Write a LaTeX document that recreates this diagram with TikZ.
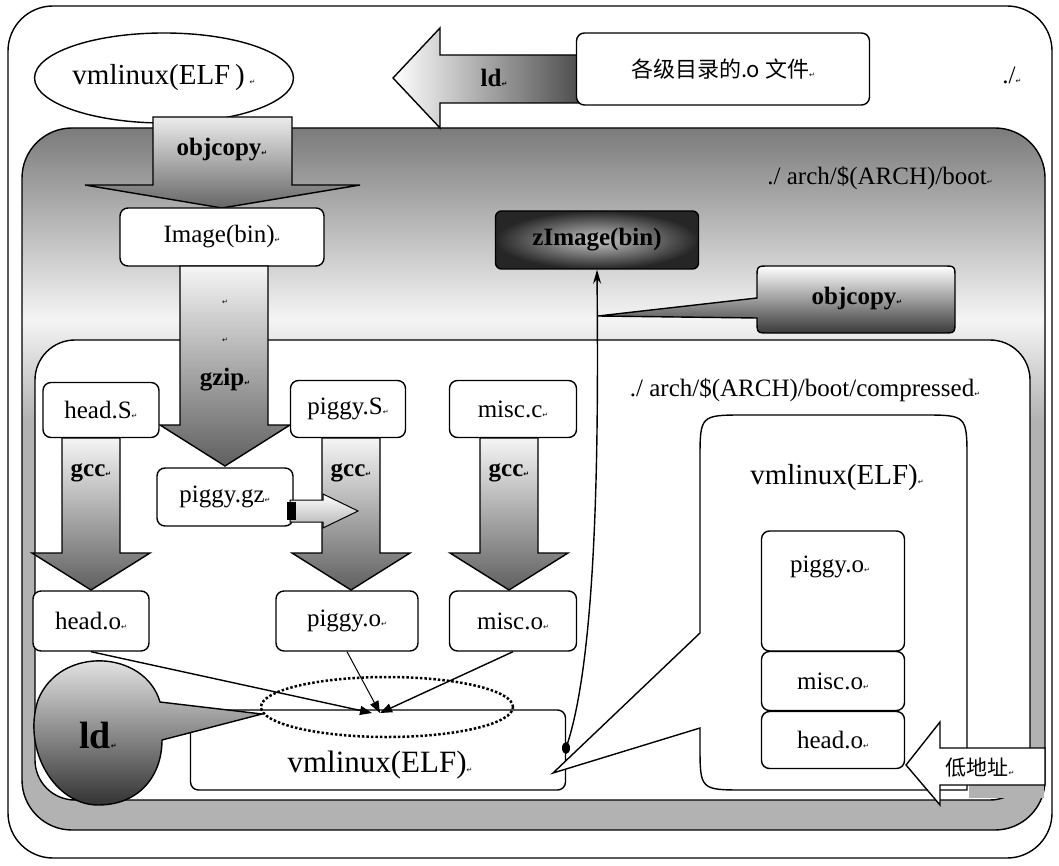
\documentclass[tikz,border=0pt]{standalone}
\usepackage{fontspec}
\setmainfont{Liberation Serif}
\newfontfamily\cjk{Noto Sans CJK SC}
\newfontfamily\symf{DejaVu Sans}
\usetikzlibrary{shapes.geometric,arrows.meta}
\newcommand{\retm}{{\symf\fontsize{7}{7}\selectfont ↵}}
\begin{document}
\begin{tikzpicture}[x=1pt,y=-1pt,line width=1.4pt,
  box/.style={draw,fill=white,rounded corners=8pt,inner sep=0pt,font=\fontsize{25}{27}\selectfont},
  lbl/.style={font=\fontsize{25}{27}\selectfont\bfseries,inner sep=0pt},
  txt/.style={font=\fontsize{25}{27}\selectfont,inner sep=0pt}]
\useasboundingbox (0,0) rectangle (1059,866);
% outer
\draw[rounded corners=45pt] (8,6) rectangle (1052,858);
% gray panel
\fill[gray!60,rounded corners=50pt] (22,128) rectangle (1045,830);
\begin{scope}
\clip[rounded corners=50pt] (22,128) rectangle (1045,830);
\shade[top color=gray!85!black!90,bottom color=gray!8] (22,128) rectangle (1045,320);
\shade[top color=gray!8,bottom color=gray!60] (22,319) rectangle (1045,420);
\end{scope}
\draw[rounded corners=50pt] (22,128) rectangle (1045,830);
\node[txt] (boot) at (880,178) {./ arch/\$(ARCH)/boot\retm};
\node[txt] (root) at (1012,75) {./\retm};
% top ellipse and ld arrow
\node[ellipse,draw,fill=white,minimum width=236pt,minimum height=90pt,txt,font=\fontsize{29}{31}\selectfont] (vm0) at (164,78) {vmlinux(ELF\,)\,\retm};
\shade[left color=white,right color=gray!60!black,draw] (393,78) -- (440,28) -- (440,55) -- (580,55) -- (580,103) -- (440,103) -- (440,128) -- cycle;
\node[lbl] (ld0) at (494,78) {ld\retm};
\node[box,minimum width=293pt,minimum height=72pt] (ofiles) at (723,69) {\cjk\fontsize{22}{24}\selectfont 各级目录的.o 文件\retm};
% objcopy down arrow
\shade[top color=gray!15,bottom color=gray!80!black,draw] (153,117) -- (292,117) -- (292,185) -- (360,185) -- (222,208) -- (85,185) -- (153,185) -- cycle;
\node[lbl] (oc1) at (222,150) {objcopy\retm};
\node[box,minimum width=204pt,minimum height=58pt] (img) at (222,237) {Image(bin)\retm};
% zImage
\node[draw,rounded corners=6pt,minimum width=203pt,minimum height=58pt,inner color=gray!45,outer color=gray!30!black,lbl] (zimg) at (597,240) {zImage(bin)};
% objcopy callout
\shade[top color=white,bottom color=gray!45!black,draw] (598,316) -- (757,298) -- (757,278) .. controls (757,266) .. (769,266) -- (943,266) .. controls (955,266) .. (955,278) -- (955,321) .. controls (955,333) .. (943,333) -- (769,333) .. controls (757,333) .. (757,321) -- (757,318) -- cycle;
\node[lbl] (oc2) at (857,299) {objcopy\retm};
% white panel
\draw[fill=white,rounded corners=40pt] (35,340) rectangle (1030,800);
\node[txt] (comp) at (805,390) {./ arch/\$(ARCH)/boot/compressed\retm};
% gzip arrow
\shade[top color=gray!8,bottom color=gray!75!black,draw] (180,266) -- (268,266) -- (268,425) -- (290,425) -- (225,466) -- (160,425) -- (180,425) -- cycle;
\node (g1) at (225,302) {\retm};
\node (g2) at (225,340) {\retm};
\node[lbl] (gz) at (225,380) {gzip\retm};
% sources
\node[box,minimum width=116pt,minimum height=55pt] (hS) at (101,410) {head.S\retm};
\node[box,minimum width=115pt,minimum height=57pt] (pS) at (348,409) {piggy.S\retm};
\node[box,minimum width=127pt,minimum height=57pt] (mc) at (513,409) {misc.c\retm};
% gcc arrows
\foreach \cx/\n in {91/a,351/b,509/c}{
 \shade[top color=gray!8,bottom color=gray!75!black,draw] (\cx-29,438) -- (\cx+29,438) -- (\cx+29,553) -- (\cx+59,553) -- (\cx,590) -- (\cx-59,553) -- (\cx-29,553) -- cycle;
 \node[lbl] (gcc\n) at (\cx,473) {gcc\retm};
}
\node[box,minimum width=136pt,minimum height=58pt] (pgz) at (225,497) {piggy.gz\retm};
% small arrow
\shade[top color=white,bottom color=gray!60,draw,line width=1pt] (290,500) -- (323,500) -- (323,494) -- (358,511) -- (323,528) -- (323,522) -- (290,522) -- cycle;
\fill[black] (287,502) rectangle (296,520);
% objects
\node[box,minimum width=116pt,minimum height=60pt] (ho) at (91,621) {head.o\retm};
\node[box,minimum width=142pt,minimum height=60pt] (po) at (347,621) {piggy.o\retm};
\node[box,minimum width=127pt,minimum height=60pt] (mo) at (513,621) {misc.o\retm};
% vmlinux lower
\node[box,minimum width=375pt,minimum height=80pt] (vm1) at (378,750) {};
\node[txt,font=\fontsize{31}{33}\selectfont] (vm1t) at (380,765) {vmlinux(ELF)\retm};
\node[ellipse,draw,dotted,line width=2.5pt,minimum width=252pt,minimum height=60pt] (dot) at (387,707) {};
\coordinate (t1) at (372,713);
\coordinate (t2) at (380,713);
\draw[-{Triangle[length=12pt,width=9pt]}] (ho.south) -- (t1);
\draw[-{Triangle[length=12pt,width=9pt]},line width=1pt] (po.south) -- (t2);
\draw[-{Triangle[length=12pt,width=9pt]}] (mo.south) -- (t2);
% ld callout
\shade[top color=gray!8,bottom color=gray!40!black,draw] (160,702) .. controls (145,650) and (60,645) .. (38,700) .. controls (22,750) and (55,805) .. (98,805) .. controls (140,805) and (162,775) .. (162,740) -- (262,714) -- cycle;
\node[lbl,font=\fontsize{38}{40}\selectfont\bfseries] (ld1) at (98,735) {ld\retm};
% right vmlinux shape
\draw[fill=white] (700,633) -- (700,460) .. controls (700,415) .. (745,415) -- (922,415) .. controls (967,415) .. (967,460) -- (967,790) -- (745,790) .. controls (700,790) .. (700,745) -- (700,728) -- (553,773) -- cycle;
\node[txt,font=\fontsize{29}{31}\selectfont] (vm2) at (837,478) {vmlinux(ELF)\retm};
\node[box,minimum width=143pt,minimum height=120pt] (p2) at (833,591) {};
\node[txt] (p2t) at (830,567) {piggy.o\retm};
\node[box,minimum width=143pt,minimum height=59pt] (m2) at (833,681) {misc.o\retm};
\node[box,minimum width=143pt,minimum height=57pt] (h2) at (833,740) {head.o\retm};
% low address arrow
\fill[gray!60] (969,750) rectangle (1044,798);
\draw[fill=white] (906,765) -- (940,722) -- (940,748) -- (1045,748) -- (1045,785) -- (940,785) -- (940,805) -- cycle;
\node[txt,font=\cjk\fontsize{21}{23}\selectfont] (low) at (980,768) {低地址\retm};
% curved arrow
\coordinate (c0) at (566,748);
\fill (c0) ellipse (4pt and 6pt);
\draw[-{Stealth[length=14pt,width=8pt]}] (c0) .. controls (600,650) and (598,400) .. (zimg.south);
\end{tikzpicture}
\end{document}
